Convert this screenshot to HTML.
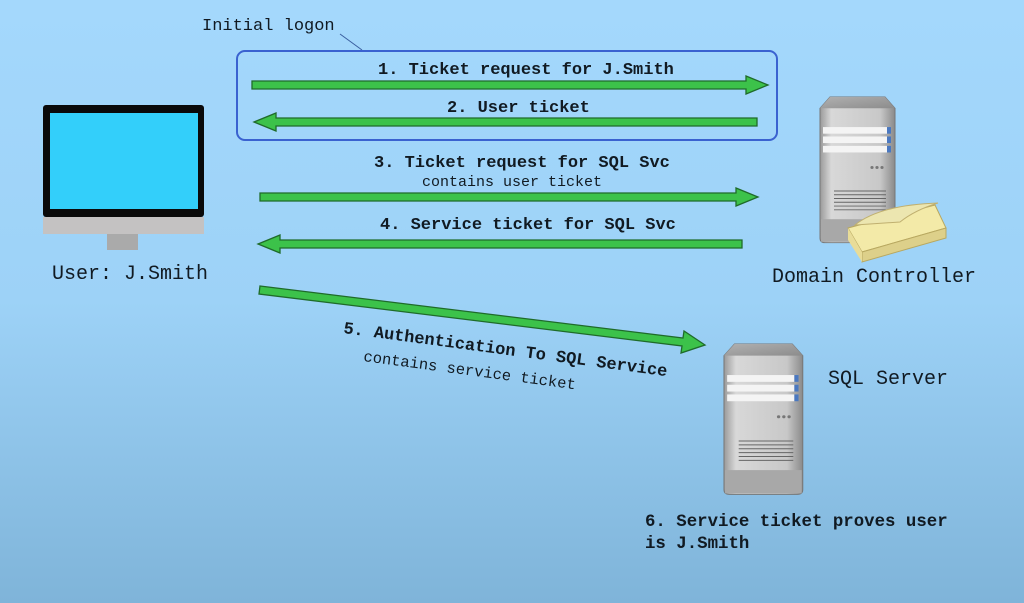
<!DOCTYPE html>
<html><head><meta charset="utf-8"><style>
html,body{margin:0;padding:0;}
body{width:1024px;height:603px;overflow:hidden;background:linear-gradient(180deg,#a4d8fc 0%,#9dd2f7 50%,#7fb4d9 100%);}
svg{display:block}
text{font-family:"Liberation Mono",monospace;fill:#111a22}
</style></head><body>
<svg width="1024" height="603" viewBox="0 0 1024 603" xmlns="http://www.w3.org/2000/svg">
<defs>
<linearGradient id="srv" x1="0" x2="1"><stop offset="0" stop-color="#9a9a9a"/><stop offset="0.15" stop-color="#d8d8d8"/><stop offset="0.8" stop-color="#c8c8c8"/><stop offset="1" stop-color="#8a8a8a"/></linearGradient>
<linearGradient id="top" y1="0" y2="1"><stop offset="0" stop-color="#b0b0b0"/><stop offset="1" stop-color="#8c8c8c"/></linearGradient>
<g id="server">
<path d="M10 0 H65 L75 12 V150 Q75 155 70 155 H5 Q0 155 0 150 V12 Z" fill="url(#srv)" stroke="#777" stroke-width="1"/>
<path d="M10 0 H65 L75 12 H0 Z" fill="url(#top)"/>
<rect x="3" y="32" width="64" height="7" fill="#f4f4f4"/><rect x="67" y="32" width="4" height="7" fill="#4a78c0"/>
<rect x="3" y="42" width="64" height="7" fill="#f4f4f4"/><rect x="67" y="42" width="4" height="7" fill="#4a78c0"/>
<rect x="3" y="52" width="64" height="7" fill="#f4f4f4"/><rect x="67" y="52" width="4" height="7" fill="#4a78c0"/>
<circle cx="52" cy="75" r="1.6" fill="#777"/><circle cx="57" cy="75" r="1.6" fill="#777"/><circle cx="62" cy="75" r="1.6" fill="#777"/>
<g stroke="#666" stroke-width="1"><line x1="14" y1="100" x2="66" y2="100"/><line x1="14" y1="104" x2="66" y2="104"/><line x1="14" y1="108" x2="66" y2="108"/><line x1="14" y1="112" x2="66" y2="112"/><line x1="14" y1="116" x2="66" y2="116"/><line x1="14" y1="120" x2="66" y2="120"/></g>
<rect x="1" y="130" width="73" height="24" fill="#a8a8a8"/>
</g>
</defs>

<rect x="43" y="105" width="161" height="112" rx="3" fill="#0a0a0a"/>
<rect x="50" y="113" width="148" height="96" fill="#33cffa"/>
<rect x="43" y="217" width="161" height="17" fill="#c4c2c2"/>
<rect x="107" y="234" width="31" height="16" fill="#aaa"/>
<text x="52" y="279" font-size="20">User: J.Smith</text>

<text x="202" y="30" font-size="17">Initial logon</text>
<line x1="340" y1="34" x2="362" y2="50" stroke="#3a5fa0" stroke-width="1"/>
<rect x="237" y="51" width="540" height="89" rx="8" fill="none" stroke="#3a62d0" stroke-width="2"/>

<g fill="#3cc24a" stroke="#1f6b2a" stroke-width="1.3">
<path d="M252 81 H746 V76 L768 85 L746 94 V89 H252 Z"/>
<path d="M757 118 H276 V113 L254 122 L276 131 V126 H757 Z"/>
<path d="M260 193 H736 V188 L758 197 L736 206 V201 H260 Z"/>
<path d="M742 240 H280 V235 L258 244 L280 253 V248 H742 Z"/>
<path d="M260 286 L683 338 L684 331 L705 345 L681 353 L682 346 L259 294 Z"/>
</g>

<g font-size="17" font-weight="bold">
<text x="378" y="74">1. Ticket request for J.Smith</text>
<text x="447" y="112">2. User ticket</text>
<text x="374" y="167">3. Ticket request for SQL Svc</text>
<text x="380" y="229">4. Service ticket for SQL Svc</text>
<text x="645" y="526" font-size="17.4">6. Service ticket proves user</text>
<text x="645" y="548" font-size="17.4">is J.Smith</text>
</g>
<text x="422" y="186" font-size="15">contains user ticket</text>
<text transform="translate(343,333) rotate(7.6)" font-size="17" font-weight="bold">5. Authentication To SQL Service</text>
<text transform="translate(363,361) rotate(7.6)" font-size="15.5">contains service ticket</text>

<use href="#server" transform="translate(820,97) scale(1,0.94)"/>
<g>
<path d="M848 228 L935 205 L946 228 L862 252 Z" fill="#f3eaa8" stroke="#b8a860" stroke-width="1"/>
<path d="M862 252 L946 228 L946 238 L862 262 Z" fill="#ddd08a" stroke="#b8a860" stroke-width="1"/>
<path d="M848 228 L862 252 L862 262 L848 240 Z" fill="#e8dc98"/>
<path d="M855 225 Q880 205 938 203 Q915 210 900 222 Z" fill="#ece6b0" stroke="#c0b070" stroke-width="1"/>
</g>
<text x="772" y="282" font-size="20">Domain Controller</text>

<use href="#server" transform="translate(724,344) scale(1.05,0.97)"/>
<text x="828" y="384" font-size="20">SQL Server</text>
</svg>
</body></html>
